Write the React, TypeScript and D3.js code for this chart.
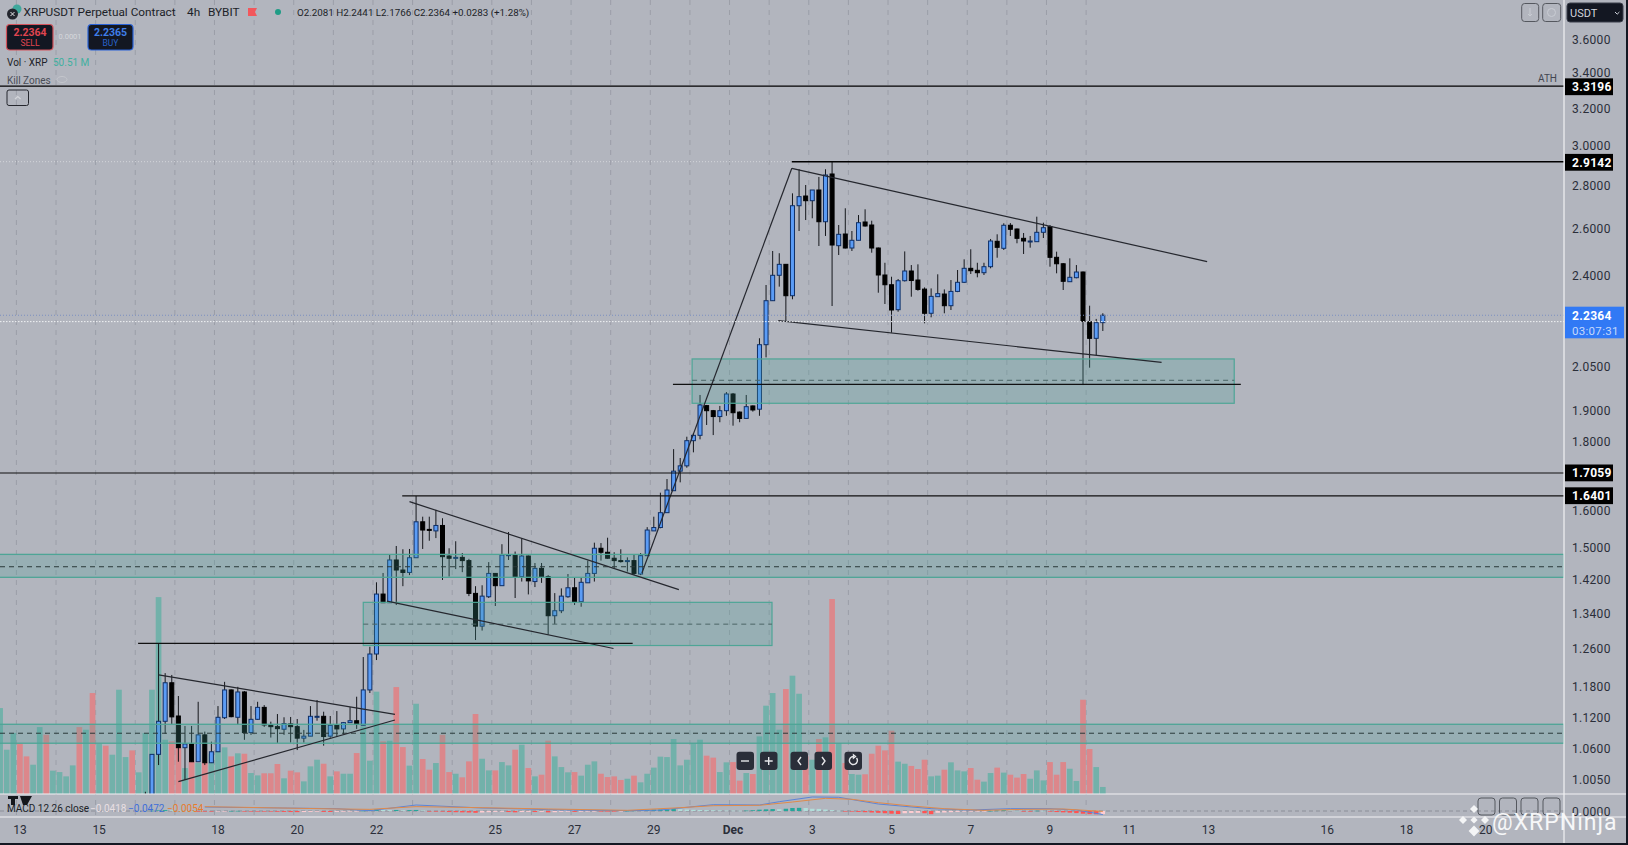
import * as d3 from 'd3'
import React from 'react'

const W = 1628
const H = 845
const AXIS_X = 1564
const PANE_BOTTOM = 794
const MACD_BOTTOM = 817
const ZERO_Y = 811

// 4h candles, [open, high, low, close], first one is 16 Nov 04:00
const ohlc = [
  [0.95, 0.9835, 0.93, 0.97],
  [0.9695, 1.0492, 0.95, 1.049], [1.049, 1.2708, 1.0298, 1.1105], [1.1105, 1.2067, 1.0866, 1.1868], [1.1868, 1.2029, 1.1054, 1.119],
  [1.1207, 1.16, 1.0357, 1.0611], [1.0611, 1.1016, 1.0036, 1.068], [1.068, 1.1016, 1.0357, 1.0357], [1.0357, 1.1485, 1.0357, 1.0848],
  [1.0848, 1.0909, 1.0298, 1.0339], [1.0339, 1.0722, 1.0334, 1.0537], [1.0537, 1.14, 1.0537, 1.1182], [1.1174, 1.1887, 1.1149, 1.1722],
  [1.1722, 1.1732, 1.1182, 1.1194], [1.1182, 1.1785, 1.1035, 1.1681], [1.1681, 1.1701, 1.0756, 1.0891], [1.0891, 1.14, 1.0848, 1.1143],
  [1.1143, 1.1485, 1.113, 1.1375], [1.1375, 1.142, 1.0997, 1.1035], [1.1035, 1.1098, 1.0798, 1.1003], [1.1003, 1.1245, 1.07, 1.0965],
  [1.0954, 1.1182, 1.0848, 1.106], [1.1054, 1.1188, 1.0705, 1.1003], [1.1003, 1.1149, 1.0568, 1.0787], [1.0787, 1.0941, 1.0705, 1.0824],
  [1.0824, 1.14, 1.0824, 1.1201], [1.1188, 1.1519, 1.1116, 1.1201], [1.1201, 1.129, 1.0648, 1.0817], [1.0824, 1.1207, 1.0793, 1.1029],
  [1.1029, 1.1303, 1.0811, 1.096], [1.096, 1.1092, 1.0866, 1.1079], [1.1079, 1.138, 1.1079, 1.1116], [1.1116, 1.1586, 1.096, 1.1048],
  [1.1029, 1.2406, 1.1029, 1.1722], [1.1722, 1.2628, 1.166, 1.2471], [1.2471, 1.4112, 1.2342, 1.3829], [1.3829, 1.4341, 1.3624, 1.3624],
  [1.3624, 1.4793, 1.3624, 1.4666], [1.4666, 1.5024, 1.357, 1.4414], [1.4414, 1.4939, 1.4018, 1.4354], [1.4354, 1.4947, 1.4288, 1.4723],
  [1.4723, 1.6377, 1.4723, 1.5664], [1.5664, 1.5802, 1.4947, 1.5443], [1.546, 1.5802, 1.516, 1.5449], [1.542, 1.599, 1.523, 1.5565],
  [1.5565, 1.576, 1.4168, 1.475], [1.4766, 1.4965, 1.4252, 1.471], [1.4723, 1.5147, 1.4438, 1.4732], [1.4732, 1.4843, 1.4361, 1.465],
  [1.465, 1.4695, 1.378, 1.3845], [1.3845, 1.4018, 1.2775, 1.3085], [1.3085, 1.404, 1.2985, 1.378], [1.3765, 1.4612, 1.3735, 1.433],
  [1.433, 1.434, 1.3547, 1.403], [1.403, 1.507, 1.403, 1.4793], [1.4793, 1.539, 1.4666, 1.48], [1.4793, 1.488, 1.3735, 1.4252],
  [1.4252, 1.5225, 1.413, 1.4766], [1.4766, 1.478, 1.382, 1.4147], [1.413, 1.459, 1.3997, 1.4456], [1.4456, 1.459, 1.4098, 1.4252],
  [1.4252, 1.4288, 1.2896, 1.3322], [1.3322, 1.3852, 1.313, 1.3437], [1.3437, 1.3965, 1.3382, 1.378], [1.3765, 1.4315, 1.3741, 1.398],
  [1.398, 1.422, 1.357, 1.364], [1.3647, 1.422, 1.353, 1.4112], [1.41, 1.465, 1.41, 1.433], [1.433, 1.511, 1.413, 1.4965],
  [1.4965, 1.51, 1.465, 1.4862], [1.4862, 1.524, 1.4695, 1.471], [1.471, 1.4862, 1.4456, 1.465], [1.465, 1.4939, 1.46, 1.4642],
  [1.4642, 1.4732, 1.4375, 1.465], [1.465, 1.4793, 1.4288, 1.433], [1.4315, 1.4843, 1.4288, 1.4775], [1.4775, 1.552, 1.4775, 1.5443],
  [1.542, 1.5802, 1.542, 1.551], [1.551, 1.647, 1.549, 1.5912], [1.5912, 1.6862, 1.5904, 1.6546], [1.6526, 1.7755, 1.6526, 1.7093],
  [1.7093, 1.7485, 1.6766, 1.725], [1.725, 1.8138, 1.7195, 1.8015], [1.8015, 1.8254, 1.7656, 1.8182], [1.8182, 1.9492, 1.8057, 1.916],
  [1.9137, 1.916, 1.8509, 1.8971], [1.8971, 1.8995, 1.819, 1.878], [1.878, 1.9127, 1.8597, 1.8971], [1.8971, 1.959, 1.8805, 1.9525],
  [1.9525, 1.9559, 1.8487, 1.8905], [1.8925, 1.8945, 1.8597, 1.872], [1.872, 1.9492, 1.872, 1.9103], [1.9127, 1.9144, 1.894, 1.8995],
  [1.902, 2.1494, 1.8805, 2.1257], [2.1257, 2.3561, 2.0797, 2.2932], [2.2932, 2.4984, 2.292, 2.3959], [2.3959, 2.4888, 2.3495, 2.4416],
  [2.4416, 2.443, 2.2144, 2.313], [2.313, 2.7595, 2.2988, 2.7012], [2.7012, 2.8766, 2.586, 2.7438], [2.7468, 2.7994, 2.6354, 2.7247],
  [2.7247, 2.7754, 2.6433, 2.7754], [2.7754, 2.8385, 2.52, 2.6277], [2.6277, 2.8766, 2.5639, 2.8481], [2.8531, 2.9142, 2.2723, 2.5243],
  [2.5214, 2.6129, 2.4812, 2.5713], [2.5726, 2.6893, 2.5092, 2.5113], [2.5113, 2.586, 2.4984, 2.5449], [2.5449, 2.6582, 2.5449, 2.6233],
  [2.6265, 2.6846, 2.6054, 2.6085], [2.6129, 2.6323, 2.491, 2.5113], [2.5113, 2.5136, 2.325, 2.3971], [2.3971, 2.4482, 2.2802, 2.3572],
  [2.3572, 2.39, 2.1701, 2.2567], [2.2579, 2.3806, 2.2501, 2.3736], [2.3736, 2.4966, 2.3704, 2.4137], [2.4137, 2.4386, 2.3091, 2.3744],
  [2.3764, 2.4416, 2.3329, 2.3383], [2.3395, 2.3464, 2.2056, 2.244], [2.244, 2.3423, 2.2285, 2.3104], [2.3092, 2.4, 2.3084, 2.3213],
  [2.3197, 2.3383, 2.244, 2.2735], [2.2735, 2.3764, 2.2567, 2.3302], [2.3302, 2.4178, 2.3273, 2.3671], [2.3671, 2.4627, 2.3642, 2.4249],
  [2.4249, 2.5058, 2.4012, 2.4149], [2.4166, 2.4482, 2.3876, 2.4066], [2.4066, 2.4482, 2.3971, 2.4317], [2.4317, 2.5507, 2.4249, 2.5418],
  [2.5405, 2.5713, 2.4696, 2.5143], [2.51, 2.6206, 2.5027, 2.6117], [2.6117, 2.6217, 2.5639, 2.5936], [2.5949, 2.5972, 2.5318, 2.5536],
  [2.5536, 2.5771, 2.4855, 2.5418], [2.5397, 2.5639, 2.5127, 2.5418], [2.5388, 2.6506, 2.5388, 2.5802], [2.5802, 2.6233, 2.555, 2.6008],
  [2.6054, 2.6129, 2.4317, 2.4713], [2.4713, 2.4955, 2.4041, 2.444], [2.444, 2.447, 2.3359, 2.3712], [2.3695, 2.467, 2.3683, 2.3876],
  [2.386, 2.4386, 2.3835, 2.4095], [2.4095, 2.4116, 1.9828, 2.2124], [2.2115, 2.2735, 2.0431, 2.1491], [2.1491, 2.2223, 2.0882, 2.2081],
  [2.2081, 2.2441, 2.1766, 2.2364],
]

// volume in millions. volumes[0] is 12 Nov 12:00, the candle list starts at volumes[22]
const volumes = [
  619, 319, 439, 362, 271, 211, 482, 427, 168, 158, 127, 206, 482, 463, 727, 362, 348, 283, 751, 266, 314, 156, 439,
  751, 1418, 391, 379, 367, 187, 235, 223, 228, 290, 307, 336, 271, 293, 290, 151, 134, 149, 149, 216, 113, 168, 156, 91, 199,
  247, 218, 127, 163, 146, 146, 295, 487, 240, 737, 379, 384, 770, 338, 204, 650, 252, 175, 223, 427, 158, 146, 120, 235, 576,
  254, 170, 170, 230, 206, 319, 355, 187, 127, 139, 384, 271, 194, 156, 158, 132, 211, 235, 146, 122, 127, 101, 110, 132, 84,
  146, 190, 269, 266, 396, 206, 247, 367, 391, 276, 262, 158, 228, 230, 96, 151, 144, 415, 636, 727, 463, 756, 852, 722, 271,
  247, 396, 408, 1404, 367, 223, 144, 139, 142, 290, 348, 314, 456, 233, 218, 202, 180, 247, 127, 132, 175, 228, 170, 163, 187,
  103, 89, 151, 190, 154, 139, 118, 144, 110, 170, 98, 230, 139, 230, 182, 94, 679, 324, 194, 50.51,
]
// up or down for the bars left of the first candle
const earlyVolumeUp = [1, 1, 1, 0, 0, 1, 1, 0, 1, 1, 1, 1, 0, 1, 0, 1, 0, 1, 1, 1, 0, 1]

// MACD and signal, read at [candle number, value]
const macdLine = [
  [8, 0.053], [28, 0.031], [33, 0.004], [40, 0.08], [50, 0.04], [56, 0.028], [60, 0.018], [72, 0.004], [77, 0.013], [83, 0.067],
  [85, 0.084], [92, 0.08], [95, 0.124], [100, 0.187], [104, 0.183], [110, 0.093], [118, 0.031], [124, 0.013], [130, 0.031],
  [136, 0.031], [140, 0.013], [144, -0.0472],
]
const signalLine = [
  [8, 0.058], [28, 0.027], [33, 0.022], [40, 0.058], [50, 0.044], [60, 0.027], [72, 0.009], [80, 0.044], [85, 0.071], [92, 0.076],
  [97, 0.12], [102, 0.169], [106, 0.156], [110, 0.111], [115, 0.067], [120, 0.031], [126, 0.009], [132, 0.022], [138, 0.027],
  [144, -0.0054],
]
const histogram = [
  0.004, 0.008, 0.012, 0.01, 0.006, 0.003, 0.001, -0.002, -0.004, -0.006,
  -0.004, -0.002, 0.001, 0.002, -0.002, -0.004, -0.005, -0.006, -0.008, -0.01,
  -0.012, -0.014, -0.015, -0.014, -0.012, -0.01, -0.012, -0.013, -0.012, -0.01,
  -0.008, -0.006, 0.004, 0.012, 0.022, 0.018, 0.012, 0.014, 0.01, 0.012,
  0.014, 0.008, -0.002, -0.004, -0.008, -0.014, -0.016, -0.018, -0.02, -0.024,
  -0.02, -0.016, -0.012, -0.01, -0.014, -0.018, -0.014, -0.012, -0.014, -0.012,
  -0.018, -0.016, -0.012, -0.01, -0.012, -0.01, -0.006, -0.002, -0.004, -0.005,
  -0.006, -0.005, 0.002, 0.006, 0.01, 0.014, 0.018, 0.02, 0.022, 0.026,
  0.024, 0.02, 0.016, 0.014, 0.012, 0.01, 0.008, 0.006, 0.005, 0.004,
  0.006, 0.01, 0.018, 0.022, 0.026, 0.024, 0.03, 0.04, 0.042, 0.04,
  0.03, 0.028, 0.02, 0.012, 0.004, -0.002, -0.006, -0.012, -0.016, -0.02,
  -0.024, -0.03, -0.036, -0.04, -0.03, -0.026, -0.024, -0.03, -0.042, -0.024,
  -0.02, -0.016, -0.012, -0.008, -0.006, -0.004, -0.002, 0.002, 0.006, 0.01,
  0.008, 0.002, -0.002, -0.004, 0.004, 0.002, -0.008, -0.014, -0.018, -0.022,
  -0.028, -0.036, -0.042, -0.044, -0.0418,
]

const priceTicks = [3.6, 3.4, 3.2, 3.0, 2.8, 2.6, 2.4, 2.05, 1.9, 1.8, 1.6, 1.5, 1.42, 1.34, 1.26, 1.18, 1.12, 1.06, 1.005]
const dateTicks = [
  [10, 13], [10, 15], [10, 18], [10, 20], [10, 22], [10, 25], [10, 27], [10, 29],
  [11, 1], [11, 3], [11, 5], [11, 7], [11, 9], [11, 11], [11, 13], [11, 16], [11, 18], [11, 20],
]
const taggedLevels = [3.3196, 2.9142, 1.7059, 1.6401]
const lastPrice = 2.2364
const bidLine = 2.2119

// drawings, [candle number, price]
const trendLines = [
  [[1, 1.2029], [36.8, 1.1237]],
  [[4, 1.0007], [36.8, 1.113]],
  [[39, 1.6217], [79.8, 1.3936]],
  [[35.6, 1.3663], [69.9, 1.259]],
  [[74.2, 1.4341], [96.9, 2.8812]],
  [[96.9, 2.8812], [159.8, 2.4531]],
  [[94.85, 2.2155], [152.9, 2.062]],
]
const levelLines = [
  [-2.1, 72.8, 1.2703],
  [78.9, 164.9, 1.9853],
]
const boxes = [
  { from: 81.8, to: 163.9, top: 2.0741, bottom: 1.9215, mid: 1.9992 },
  { from: 32, to: 93.9, top: 1.3633, bottom: 1.2655, mid: 1.313 },
]
const bands = [
  { top: 1.4808, bottom: 1.4234, mid: 1.4496 },
  { top: 1.1048, bottom: 1.0693, mid: 1.0879 },
]

const firstCandle = Date.UTC(2024, 10, 16, 4)
const firstVolume = Date.UTC(2024, 10, 12, 12)
const FOUR_HOURS = 4 * 3600 * 1000

const xTime = d3
  .scaleUtc()
  .domain([new Date(Date.UTC(2024, 10, 13)), new Date(Date.UTC(2024, 11, 20))])
  .range([19.9, 1485.8])
const xCandle = (i: number) => xTime(new Date(firstCandle + i * FOUR_HOURS))
const yPrice = d3.scaleLog().domain([2.4, 1.005]).range([274.3, 779.2])
const yVolume = d3.scaleLinear().domain([0, 1400]).range([PANE_BOTTOM, PANE_BOTTOM - 194.4])
const yMacd = d3.scaleLinear().domain([0, 0.2]).range([ZERO_Y, ZERO_Y - 15])

const BLUE = '#5b9cf6'
const BLUE_EDGE = '#0f2f66'
const UI_DARK = '#2a2e39'
const TEXT = '#2a2e39'
const FONT = 'Roboto, sans-serif'
const ZONE_FILL = 'rgba(70,160,152,0.25)'

const macdPath = d3
  .line<number[]>()
  .x((d) => xCandle(d[0] + 1))
  .y((d) => yMacd(d[1]))

const Candle = ({ d, i }: { d: number[]; i: number }) => {
  const [o, h, l, c] = d
  const x = xCandle(i)
  const up = c >= o
  const top = yPrice(Math.max(o, c))
  const bottom = yPrice(Math.min(o, c))
  return (
    <g>
      <line x1={x} x2={x} y1={yPrice(h)} y2={yPrice(l)} stroke="#15171c" strokeWidth={1} />
      <rect
        x={x - 2}
        y={top}
        width={4}
        height={Math.max(bottom - top, 1)}
        fill={up ? BLUE : '#000'}
        stroke={up ? BLUE_EDGE : '#000'}
        strokeWidth={1}
      />
    </g>
  )
}

const Volumes = () => (
  <g>
    {volumes.map((v, k) => {
      const x = xTime(new Date(firstVolume + k * FOUR_HOURS))
      const candle = ohlc[k - earlyVolumeUp.length]
      const up = candle ? candle[3] >= candle[0] : earlyVolumeUp[k] === 1
      return (
        <rect
          key={k}
          x={x - 2.85}
          y={yVolume(v)}
          width={5.7}
          height={PANE_BOTTOM - yVolume(v)}
          fill={up ? '#72b1aa' : '#dc878b'}
        />
      )
    })}
  </g>
)

const histColor = (v: number, prev: number) => {
  if (v >= 0) return v >= prev ? '#26a69a' : '#b2dfdb'
  return v <= prev ? '#ff5252' : '#ffcdd2'
}

const Macd = () => (
  <g>
    <line x1={0} x2={AXIS_X} y1={ZERO_Y} y2={ZERO_Y} stroke="#8b8e98" strokeWidth={1} strokeDasharray="4 3" />
    {histogram.map((v, k) => {
      const x = xCandle(k + 1)
      const y = yMacd(v)
      return (
        <rect
          key={k}
          x={x - 2.2}
          y={Math.min(y, ZERO_Y)}
          width={4.4}
          height={Math.max(Math.abs(y - ZERO_Y), 0.6)}
          fill={histColor(v, k ? histogram[k - 1] : 0)}
        />
      )
    })}
    <path d={macdPath(macdLine) ?? ''} fill="none" stroke="#5b84d8" strokeWidth={1} />
    <path d={macdPath(signalLine) ?? ''} fill="none" stroke="#e08a4a" strokeWidth={1} />
  </g>
)

const Drawings = () => (
  <g>
    {bands.map((b, k) => (
      <g key={k}>
        <rect
          x={-2}
          y={yPrice(b.top)}
          width={AXIS_X + 2}
          height={yPrice(b.bottom) - yPrice(b.top)}
          fill={ZONE_FILL}
          stroke="#4ea596"
          strokeWidth={1.3}
        />
        <line x1={0} x2={AXIS_X} y1={yPrice(b.mid)} y2={yPrice(b.mid)} stroke="#2a3a3a" strokeWidth={1} strokeDasharray="5 4" />
      </g>
    ))}
    {boxes.map((b, k) => (
      <g key={k}>
        <rect
          x={xCandle(b.from + 1)}
          y={yPrice(b.top)}
          width={xCandle(b.to + 1) - xCandle(b.from + 1)}
          height={yPrice(b.bottom) - yPrice(b.top)}
          fill={ZONE_FILL}
          stroke="#4ea596"
          strokeWidth={1.2}
        />
        <line
          x1={xCandle(b.from + 1)}
          x2={xCandle(b.to + 1)}
          y1={yPrice(b.mid)}
          y2={yPrice(b.mid)}
          stroke="#4c6666"
          strokeWidth={1}
          strokeDasharray="5 4"
        />
      </g>
    ))}
    {trendLines.map((t, k) => (
      <line
        key={k}
        x1={xCandle(t[0][0] + 1)}
        y1={yPrice(t[0][1])}
        x2={xCandle(t[1][0] + 1)}
        y2={yPrice(t[1][1])}
        stroke="#25272e"
        strokeWidth={1.2}
      />
    ))}
    {levelLines.map((l, k) => (
      <line
        key={k}
        x1={xCandle(l[0] + 1)}
        x2={xCandle(l[1] + 1)}
        y1={yPrice(l[2])}
        y2={yPrice(l[2])}
        stroke="#111"
        strokeWidth={1.2}
      />
    ))}
    <line x1={0} x2={AXIS_X} y1={yPrice(3.3196)} y2={yPrice(3.3196)} stroke="#000" strokeWidth={1.4} />
    <line x1={0} x2={xCandle(97.9)} y1={yPrice(2.9142)} y2={yPrice(2.9142)} stroke="#d3d5db" strokeWidth={1} strokeDasharray="1 2" />
    <line x1={xCandle(97.9)} x2={AXIS_X} y1={yPrice(2.9142)} y2={yPrice(2.9142)} stroke="#000" strokeWidth={1.4} />
    <line x1={0} x2={AXIS_X} y1={yPrice(1.7059) + 0.7} y2={yPrice(1.7059) + 0.7} stroke="#111" strokeWidth={1.2} />
    <line x1={xCandle(38.9)} x2={AXIS_X} y1={yPrice(1.6401) + 0.7} y2={yPrice(1.6401) + 0.7} stroke="#111" strokeWidth={1.2} />
    <line x1={0} x2={AXIS_X} y1={yPrice(lastPrice)} y2={yPrice(lastPrice)} stroke="#7b8fc0" strokeWidth={1} strokeDasharray="1 2" />
    <line x1={0} x2={AXIS_X} y1={yPrice(bidLine)} y2={yPrice(bidLine)} stroke="#f2f3f5" strokeWidth={1} strokeDasharray="1.5 1.5" />
    <text x={1557} y={81.5} textAnchor="end" fontSize={10} fontFamily={FONT} fill="#434651">
      ATH
    </text>
  </g>
)

const PriceAxis = () => (
  <g fontFamily={FONT}>
    {priceTicks.map((p) => (
      <text key={p} x={1572} y={yPrice(p) + 1} dy="0.35em" fontSize={12} fill={TEXT} letterSpacing={0.3}>
        {d3.format('.4f')(p)}
      </text>
    ))}
    <text x={1572} y={ZERO_Y + 1} dy="0.35em" fontSize={12} fill={TEXT} letterSpacing={0.3}>
      0.0000
    </text>
    {taggedLevels.map((p) => (
      <g key={p}>
        <rect x={1565} y={yPrice(p) - 7.8} width={48} height={16.8} fill="#000" />
        <text x={1572} y={yPrice(p) + 0.8} dy="0.36em" fontSize={12} fontWeight={700} fill="#fff" letterSpacing={0.3}>
          {d3.format('.4f')(p)}
        </text>
      </g>
    ))}
    <rect x={1565} y={306.7} width={59} height={31.6} fill="#3179f5" />
    <text x={1572} y={316} dy="0.36em" fontSize={12} fontWeight={700} fill="#fff" letterSpacing={0.3}>
      {d3.format('.4f')(lastPrice)}
    </text>
    <text x={1572} y={330.5} dy="0.36em" fontSize={11.5} fill="#c5d8fb" letterSpacing={0.3}>
      03:07:31
    </text>
    <rect x={1567} y={3} width={56} height={19} rx={3} fill="#131722" stroke="#3a3e4a" />
    <text x={1570} y={13} dy="0.36em" fontSize={11} fill="#d1d4dc">
      USDT
    </text>
    <path d="M1615 12l2.2 2.2 2.2-2.2" fill="none" stroke="#d1d4dc" />
    <rect x={1521.7} y={3.5} width={17} height={18} rx={3} fill="none" stroke="#55585f" />
    <rect x={1542.7} y={3.5} width={18} height={18} rx={3} fill="none" stroke="#55585f" />
    <path d="M1530 8v8m-2-2l2 2 2-2" fill="none" stroke="#c9ccd3" />
    <circle cx={1551.5} cy={12.5} r={4} fill="none" stroke="#c9ccd3" />
  </g>
)

const TimeAxis = () => (
  <g fontFamily={FONT} fontSize={12} fill={TEXT} textAnchor="middle">
    {dateTicks.map(([m, day]) => {
      const date = new Date(Date.UTC(2024, m, day))
      const monthStart = day === 1
      return (
        <text key={`${m}-${day}`} x={xTime(date)} y={830} dy="0.36em" fontWeight={monthStart ? 700 : 400}>
          {monthStart ? d3.utcFormat('%b')(date) : d3.utcFormat('%-d')(date)}
        </text>
      )
    })}
  </g>
)

const Header = () => (
  <g fontFamily={FONT}>
    <circle cx={17} cy={9} r={4.5} fill="#3fa89c" />
    <circle cx={12.5} cy={14} r={5.5} fill="#23262e" />
    <path d="M10.5 12l4 4m0-4l-4 4" stroke="#e6e7ea" strokeWidth={1} />
    <text x={23.5} y={12} dy="0.36em" fontSize={11.8} fill="#1c1f28">
      XRPUSDT Perpetual Contract
    </text>
    <text x={187} y={12} dy="0.36em" fontSize={11.8} fill="#1c1f28">
      4h
    </text>
    <text x={208} y={12} dy="0.36em" fontSize={11.8} fill="#1c1f28">
      BYBIT
    </text>
    <path d="M248 8h9l-2 4 2 4h-9z" fill="#f2575c" />
    <circle cx={278} cy={12} r={3} fill="#1f9c86" />
    <text x={297} y={12} dy="0.36em" fontSize={9.8} fill="#1c1f28">
      O2.2081 H2.2441 L2.1766 C2.2364 +0.0283 (+1.28%)
    </text>

    <rect x={6.5} y={24.5} width={46.5} height={25.5} rx={3.5} fill="#131722" stroke="#d3525b" strokeWidth={1.2} />
    <text x={30} y={32} dy="0.36em" textAnchor="middle" fontSize={10.5} fontWeight={700} fill="#e04550">
      2.2364
    </text>
    <text x={30} y={43} dy="0.36em" textAnchor="middle" fontSize={8.5} fill="#e04550">
      SELL
    </text>
    <text x={70} y={36.5} dy="0.36em" textAnchor="middle" fontSize={7.5} fill="#d5d7dc">
      0.0001
    </text>
    <rect x={88} y={24.5} width={45} height={25.5} rx={3.5} fill="#131722" stroke="#2962d8" strokeWidth={1.2} />
    <text x={110.5} y={32} dy="0.36em" textAnchor="middle" fontSize={10.5} fontWeight={700} fill="#3f7ee8">
      2.2365
    </text>
    <text x={110.5} y={43} dy="0.36em" textAnchor="middle" fontSize={8.5} fill="#2962c8">
      BUY
    </text>

    <text x={7} y={62} dy="0.36em" fontSize={10} fill="#1c1f28">
      Vol · XRP
    </text>
    <text x={53} y={62} dy="0.36em" fontSize={10} fill="#3fb0a0">
      50.51 M
    </text>
    <text x={7} y={80} dy="0.36em" fontSize={10} fill="#4a4d57">
      Kill Zones
    </text>
    <ellipse cx={62} cy={79.5} rx={5} ry={3} fill="none" stroke="#c4c6cc" />
    <rect x={7} y={90} width={21.5} height={15.5} rx={2} fill="none" stroke="#25272e" />
    <path d="M15 99l2.8-2.5 2.8 2.5" fill="none" stroke="#d3d5da" strokeWidth={1.2} />
  </g>
)

const navButtons = [
  { x: 736.5, w: 17.5, glyph: 'M741 761h8' },
  { x: 760, w: 17.5, glyph: 'M764.7 761h8m-4-4v8' },
  { x: 790.5, w: 17.5, glyph: 'M801 757l-3 4 3 4' },
  { x: 814.5, w: 17.5, glyph: 'M822 757l3 4-3 4' },
  { x: 844.5, w: 17.5, glyph: 'M856.5 758a4 4 0 1 1-3-1.5m0-1.6v3.2l2-1.6z' },
]

const NavBar = () => (
  <g>
    {navButtons.map((b) => (
      <g key={b.x}>
        <rect x={b.x} y={751.7} width={b.w} height={18.3} rx={3} fill={UI_DARK} />
        <path d={b.glyph} fill="none" stroke="#e6e7ea" strokeWidth={1.4} />
      </g>
    ))}
  </g>
)

const paneButtons = [1478, 1499.5, 1521, 1543]

const PaneButtons = () => (
  <g>
    {paneButtons.map((x) => (
      <rect key={x} x={x} y={798} width={17} height={17} rx={3} fill="none" stroke="#55585f" />
    ))}
  </g>
)

const diamonds = [
  [1474, 809, 4],
  [1463, 820, 4],
  [1485, 820, 4],
  [1474, 820, 3.6],
  [1474, 831, 5.4],
]

const Watermark = () => (
  <g>
    {diamonds.map(([x, y, r]) => (
      <path key={`${x}-${y}`} d={`M${x} ${y - r}L${x + r} ${y}L${x} ${y + r}L${x - r} ${y}Z`} fill="#f4f5f6" />
    ))}
    <text x={1492} y={822} dy="0.36em" fontSize={23} fontFamily={FONT} fill="#f6f7f8" letterSpacing={1}>
      @XRPNinja
    </text>
  </g>
)

const App = () => {
  const gridDays = d3.utcDay.range(new Date(Date.UTC(2024, 10, 13)), new Date(Date.UTC(2024, 11, 11)))
  return (
    <svg width={W} height={H} style={{ position: 'fixed', left: 0, top: 0, background: '#b2b5be' }}>
      <defs>
        <clipPath id="pane">
          <rect x={0} y={0} width={AXIS_X} height={PANE_BOTTOM} />
        </clipPath>
      </defs>
      {gridDays.map((d) => (
        <line
          key={+d}
          x1={xTime(d) - 3.5}
          x2={xTime(d) - 3.5}
          y1={0}
          y2={MACD_BOTTOM}
          stroke="#9b9ea8"
          strokeWidth={1}
          strokeDasharray="5 5"
        />
      ))}
      <g clipPath="url(#pane)">
        <Volumes />
        {ohlc.map((d, i) => (
          <Candle key={i} d={d} i={i} />
        ))}
        <Drawings />
      </g>
      <Macd />
      <line x1={0} x2={W} y1={PANE_BOTTOM} y2={PANE_BOTTOM} stroke="#f1f2f4" strokeWidth={1.2} />
      <line x1={0} x2={W} y1={MACD_BOTTOM} y2={MACD_BOTTOM} stroke="#f1f2f4" strokeWidth={1.2} />
      <line x1={AXIS_X} x2={AXIS_X} y1={0} y2={H} stroke="#f1f2f4" strokeWidth={1.2} />
      <PriceAxis />
      <TimeAxis />
      <Header />
      <text x={7} y={808} dy="0.36em" fontSize={10} fontFamily={FONT} fill="#1c1f28">
        MACD 12 26 close
      </text>
      <text x={90} y={808} dy="0.36em" fontSize={10} fontFamily={FONT} fill="#e8dfe2">
        −0.0418
      </text>
      <text x={128} y={808} dy="0.36em" fontSize={10} fontFamily={FONT} fill="#3f6fd8">
        −0.0472
      </text>
      <text x={167} y={808} dy="0.36em" fontSize={10} fontFamily={FONT} fill="#e87c2e">
        −0.0054
      </text>
      <path d="M8 796h10v3h-3v6h-4v-6H8zM20 796h12l-5 9h-4z" fill="#15171c" />
      <NavBar />
      <PaneButtons />
      <Watermark />
      <rect x={0} y={843} width={W} height={2} fill="#131722" />
      <rect x={1626} y={0} width={2} height={H} fill="#131722" />
    </svg>
  )
}

export default App
